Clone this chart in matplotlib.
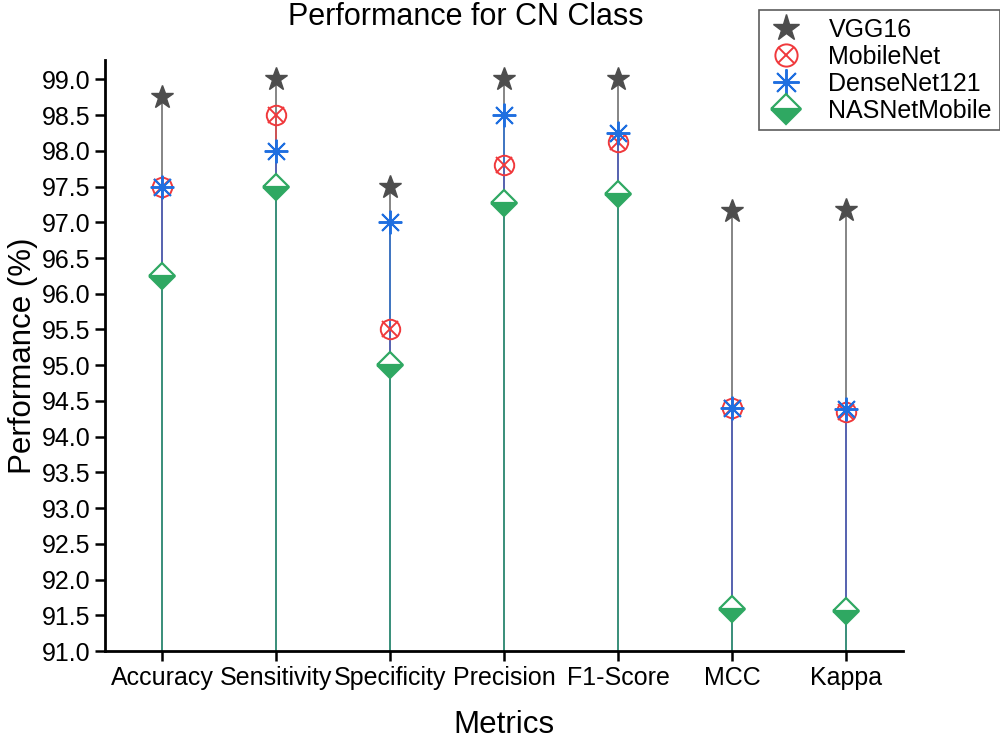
import numpy as np
import matplotlib
matplotlib.use("Agg")
import matplotlib.pyplot as plt
from matplotlib.legend_handler import HandlerTuple
from matplotlib.lines import Line2D

plt.rcParams['font.family'] = ['Liberation Sans', 'DejaVu Sans']

# data
metrics = ["Accuracy", "Sensitivity", "Specificity", "Precision", "F1-Score", "MCC", "Kappa"]
vgg16 = [98.75, 99.0, 97.5, 99.0, 99.0, 97.16, 97.17]
mobilenet = [97.5, 98.5, 95.5, 97.8, 98.13, 94.40, 94.34]
densenet121 = [97.5, 98.0, 97.0, 98.5, 98.25, 94.40, 94.39]
nasnetmobile = [96.25, 97.5, 95.0, 97.27, 97.39, 91.59, 91.56]
yticks = np.arange(91.0, 99.01, 0.5)

c_vgg = "#4d4d4d"
c_mob = "#f0393c"
c_den = "#1f6fe0"
c_nas = "#2fa862"

fig = plt.figure(figsize=(10, 7.42), dpi=100)
ax = fig.add_axes([0.105, 0.1226, 0.798, 0.7964])

x = np.arange(len(metrics))
base = 91.0

# stems (later series drawn on top)
for vals, col in [(vgg16, c_vgg), (mobilenet, c_mob), (densenet121, c_den), (nasnetmobile, c_nas)]:
    ax.vlines(x, base, vals, color=col, lw=1.2, alpha=0.8, zorder=2)

# markers
ax.plot(x, vgg16, ls="none", marker="*", ms=17, color=c_vgg, zorder=5)
ax.plot(x, mobilenet, ls="none", marker="o", ms=14, mfc="none", mec=c_mob, mew=1.4, zorder=4)
ax.plot(x, mobilenet, ls="none", marker="x", ms=11, mec=c_mob, mew=1.4, zorder=4)
ax.plot(x, densenet121, ls="none", marker=(8, 2, 0), ms=17, mec=c_den, mew=1.4, zorder=4)
ax.plot(x, nasnetmobile, ls="none", marker="D", ms=13, fillstyle="bottom",
        mfc=c_nas, mfcalt="white", mec=c_nas, mew=1.6, zorder=4)

ax.set_xlim(-0.5, 6.5)
ax.set_ylim(91.0, 99.27)
ax.set_xticks(x)
ax.set_xticklabels(metrics)
ax.set_yticks(yticks)
ax.set_yticklabels([f"{v:.1f}" for v in yticks])
ax.tick_params(labelsize=18, length=7, width=1.8, direction="out")
for s in ["top", "right"]:
    ax.spines[s].set_visible(False)
for s in ["left", "bottom"]:
    ax.spines[s].set_linewidth(2)

ax.set_xlabel("Metrics", fontsize=22.5, labelpad=15)
ax.set_ylabel("Performance (%)", fontsize=22.5, labelpad=3)
fig.text(0.466, 0.997, "Performance for CN Class", fontsize=22, ha="center", va="top")

# legend
h_vgg = Line2D([], [], ls="none", marker="*", ms=20, color=c_vgg)
h_mob = (Line2D([], [], ls="none", marker="o", ms=16, mfc="none", mec=c_mob, mew=1.4),
         Line2D([], [], ls="none", marker="x", ms=12, mec=c_mob, mew=1.4))
h_den = Line2D([], [], ls="none", marker=(8, 2, 0), ms=19, mec=c_den, mew=1.4)
h_nas = Line2D([], [], ls="none", marker="D", ms=15, fillstyle="bottom",
               mfc=c_nas, mfcalt="white", mec=c_nas, mew=1.6)
leg = fig.legend([h_vgg, h_mob, h_den, h_nas],
                 ["VGG16", "MobileNet", "DenseNet121", "NASNetMobile"],
                 handler_map={tuple: HandlerTuple(ndivide=1, pad=0)},
                 loc="upper right", bbox_to_anchor=(1.012, 1.003), fontsize=18,
                 frameon=True, fancybox=False, edgecolor="#333333",
                 handlelength=1.6, handletextpad=0.9, labelspacing=0.12, borderpad=0.3)
leg.get_frame().set_linewidth(1.2)

fig.savefig("out.png", dpi=100)
